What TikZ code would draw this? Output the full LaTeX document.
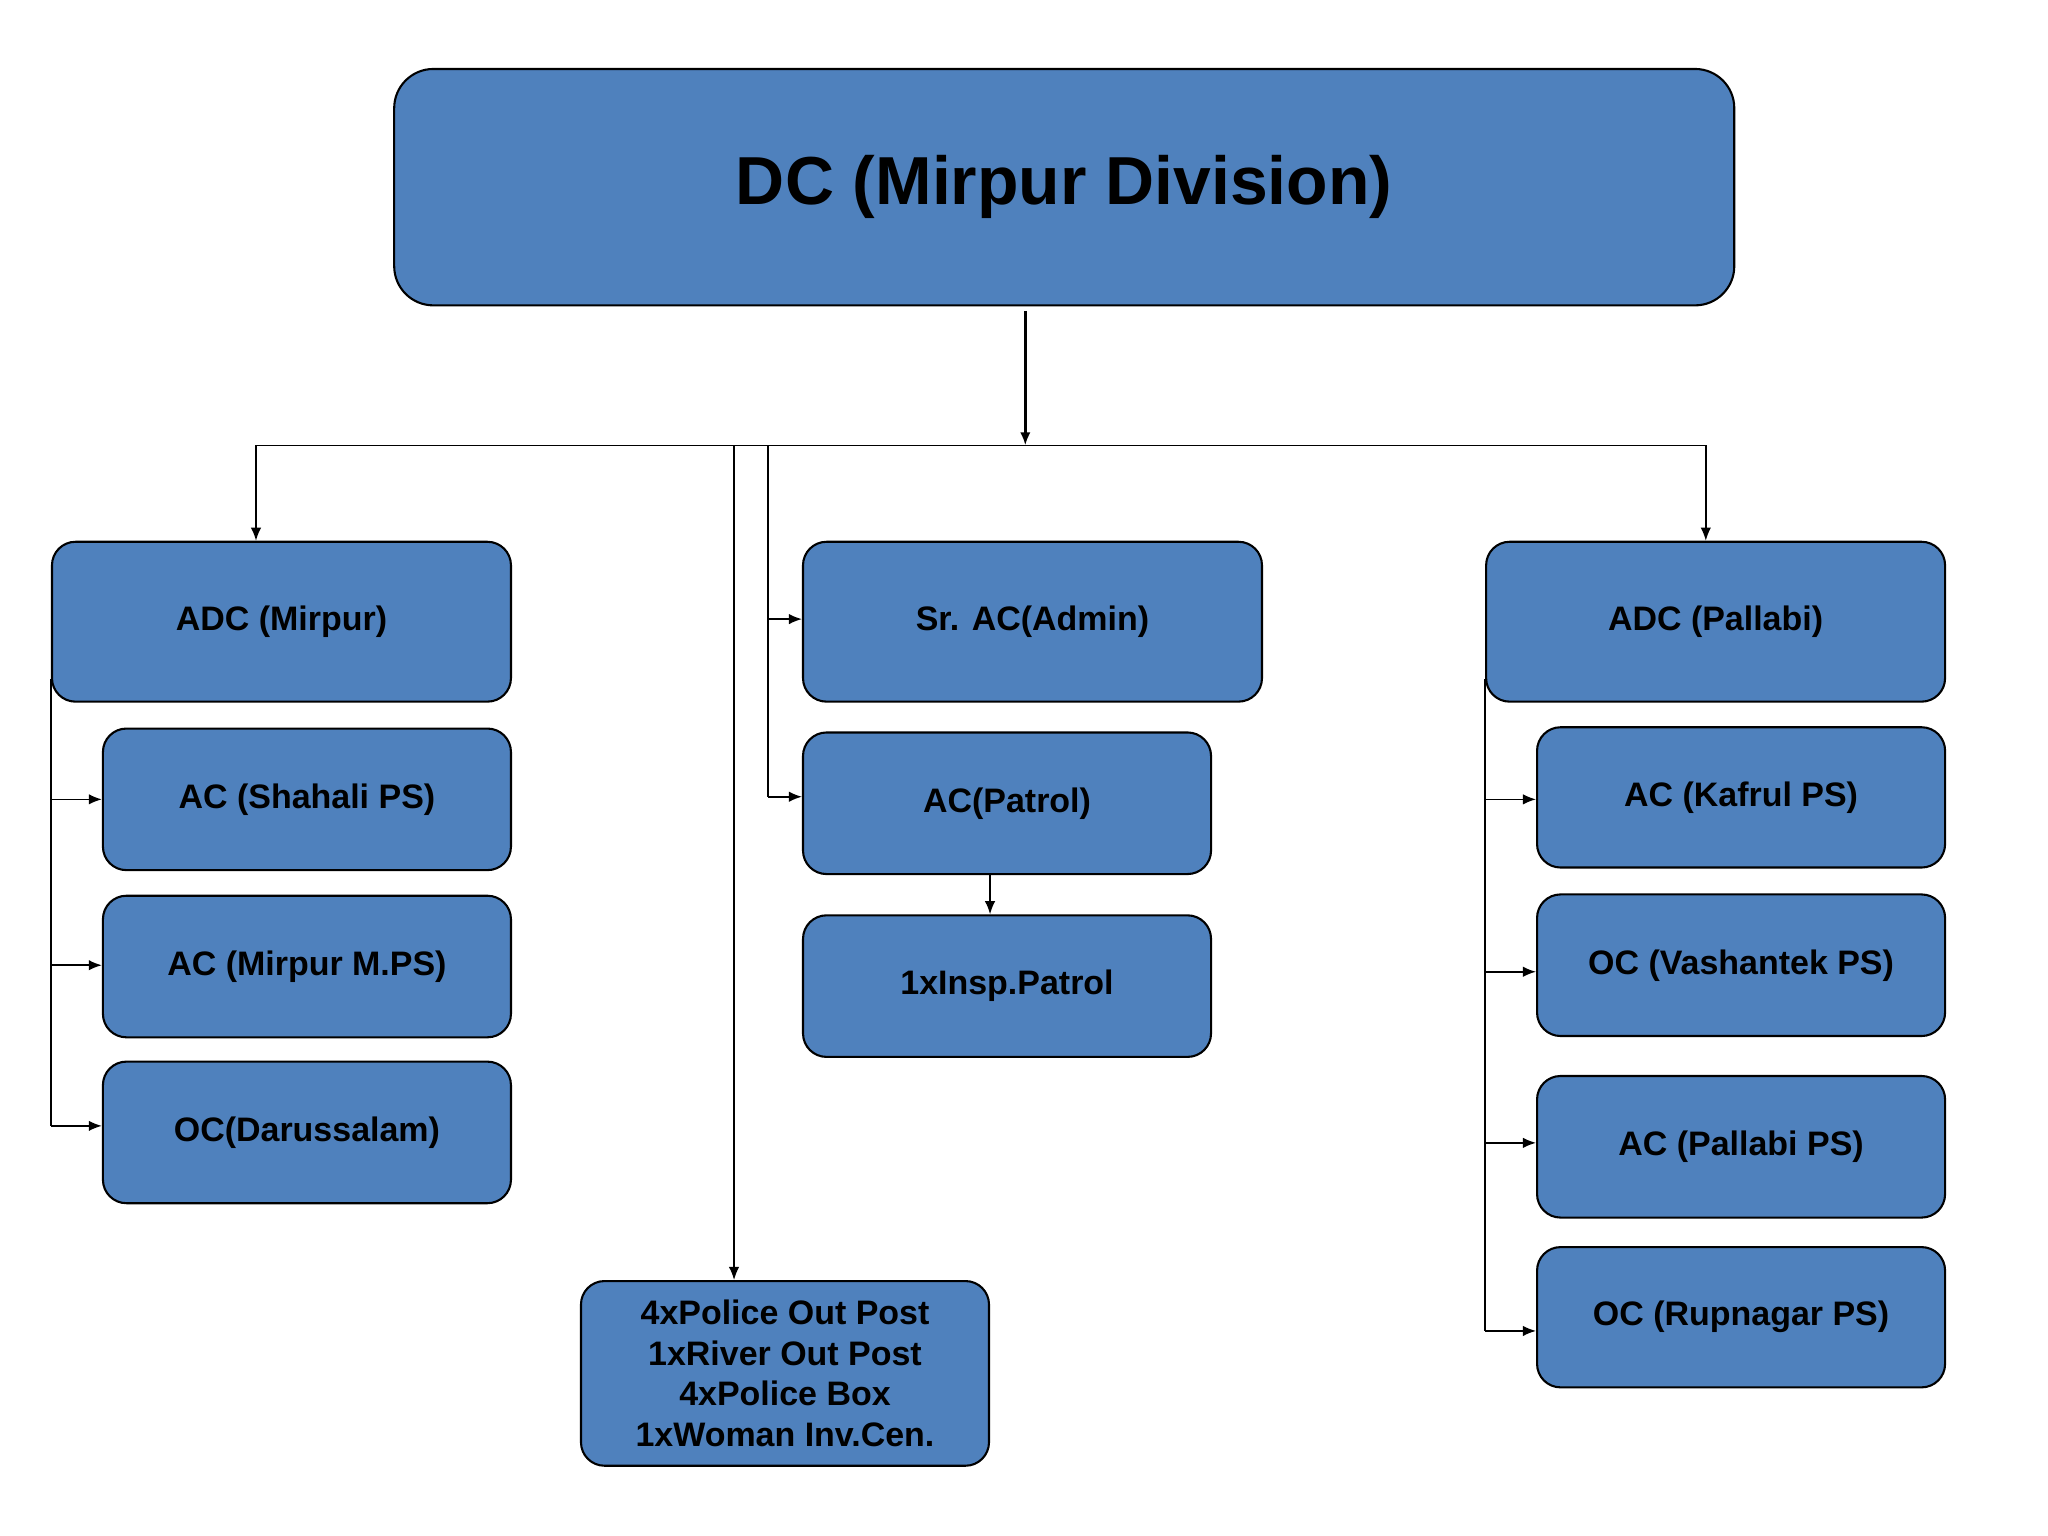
\documentclass[tikz,border=0pt]{standalone}
\usepackage{fontspec}
\setmainfont{Liberation Sans}
\usetikzlibrary{arrows.meta}
\begin{document}
\begin{tikzpicture}[x=0.5pt,y=-0.5pt,
 box/.style={draw=black,line width=0.8pt,fill=boxblue,rounded corners=9pt,font=\bfseries\fontsize{13}{15.5}\selectfont,align=center},
 conn/.style={line width=0.6pt,-{Latex[length=5pt,width=4pt]}},
 ln/.style={line width=0.6pt}]
\definecolor{boxblue}{HTML}{4F81BD}
\useasboundingbox[fill=white] (0,0) rectangle (1568,1176);
\newcommand{\bx}[6]{\node[box,minimum width=#4*0.5pt-0.8pt,minimum height=#5*0.5pt-0.8pt,anchor=north west] (#1) at (#2,#3) {#6};}
\node[box,rounded corners=15pt,minimum width=513pt,minimum height=90.5pt,anchor=north west,font=\bfseries\fontsize{26}{30}\selectfont] (dc) at (301,52) {DC (Mirpur Division)};
\bx{adcm}{39}{414}{353}{124}{ADC (Mirpur)}
\bx{shah}{78}{557}{314}{110}{AC (Shahali PS)}
\bx{mmps}{78}{685}{314}{110}{AC (Mirpur M.PS)}
\bx{daru}{78}{812}{314}{110}{OC(Darussalam)}
\bx{sradm}{614}{414}{353}{124}{Sr. AC(Admin)}
\bx{patrol}{614}{560}{314}{110}{AC(Patrol)}
\bx{insp}{614}{700}{314}{110}{1xInsp.Patrol}
\bx{posts}{444}{980}{314}{143}{4xPolice Out Post\\1xRiver Out Post\\4xPolice Box\\1xWoman Inv.Cen.}
\bx{adcp}{1137}{414}{353}{124}{ADC (Pallabi)}
\bx{kafrul}{1176}{556}{314}{109}{AC (Kafrul PS)}
\bx{vash}{1176}{684}{314}{110}{OC (Vashantek PS)}
\bx{pall}{1176}{823}{314}{110}{AC (Pallabi PS)}
\bx{rup}{1176}{954}{314}{109}{OC (Rupnagar PS)}
\coordinate (bus) at (785,341);
\draw[conn,line width=1.2pt] (785,238) -- (bus);
\draw[ln] (196,341) -- (1306,341);
\draw[conn] (196,341) -- (adcm.north -| 196,0);
\draw[conn] (1306,341) -- (adcp.north -| 1306,0);
\draw[ln] (39,520) -- (39,862);
\draw[conn] (39,612) -- (shah.west |- 0,612);
\draw[conn] (39,739) -- (mmps.west |- 0,739);
\draw[conn] (39,862) -- (daru.west |- 0,862);
\draw[conn] (562,341) -- (posts.north -| 562,0);
\draw[ln] (588,341) -- (588,610);
\draw[conn] (588,474) -- (sradm.west |- 0,474);
\draw[conn] (588,610) -- (patrol.west |- 0,610);
\draw[conn] (patrol.south -| 758,0) -- (insp.north -| 758,0);
\draw[ln] (1137,520) -- (1137,1019);
\draw[conn] (1137,612) -- (kafrul.west |- 0,612);
\draw[conn] (1137,744) -- (vash.west |- 0,744);
\draw[conn] (1137,875) -- (pall.west |- 0,875);
\draw[conn] (1137,1019) -- (rup.west |- 0,1019);
\end{tikzpicture}
\end{document}
